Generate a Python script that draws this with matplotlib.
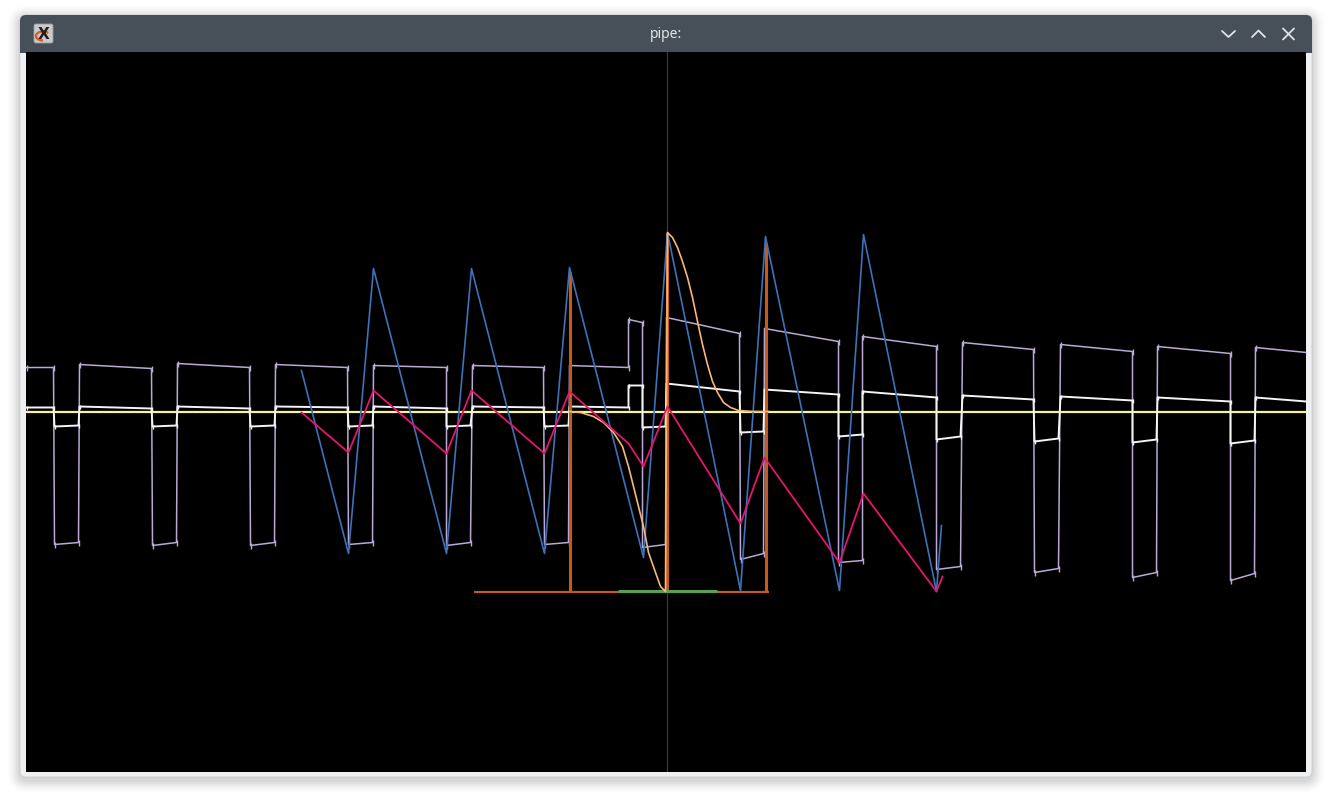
import matplotlib
matplotlib.use("Agg")
import matplotlib.pyplot as plt
from matplotlib.patches import FancyBboxPatch, Rectangle, Arc

# ---------------- data (x: sample index, y: signal value) ----------------
X0, Y0 = 26, 412  # origin of the sample/value axes inside the plot window

lav_x = [26, 53, 54, 78, 79, 151, 152, 176, 177, 249, 250, 274, 275, 347, 348, 372,
         373, 446, 446, 470, 472, 543, 544, 568, 569, 628, 628, 642, 642, 665,
         666, 739, 740, 763, 764, 838, 838, 862, 862, 936, 936, 960, 962, 1033,
         1034, 1058, 1060, 1132, 1132, 1156, 1157, 1230, 1230, 1254, 1255, 1306]
lav_y = [368, 368, 545, 543, 365, 369, 546, 543, 364, 368, 546, 543, 365, 368, 545, 543,
         366, 368, 546, 543, 366, 368, 545, 543, 366, 368, 320, 323, 548, 545,
         318, 334, 560, 554, 329, 342, 563, 561, 337, 347, 570, 567, 343, 350,
         573, 569, 345, 352, 578, 573, 347, 354, 581, 574, 348, 353]

wht_x = lav_x
wht_y = [408, 408, 427, 426, 407, 409, 427, 426, 407, 409, 427, 426, 407, 408, 427, 426,
         407, 409, 427, 426, 407, 408, 427, 426, 407, 408, 386, 386, 428, 427,
         384, 392, 433, 432, 390, 395, 437, 435, 392, 398, 440, 437, 396, 400,
         442, 439, 397, 401, 443, 440, 398, 402, 444, 441, 398, 402]

blue_x = [301, 348, 373, 446, 471, 544, 569, 643, 667, 740, 765, 839, 863, 936, 941]
blue_y = [371, 554, 269, 554, 269, 554, 268, 558, 233, 591, 237, 591, 235, 592, 526]

mag_x = [301, 348, 373, 446, 471, 544, 569, 628, 643, 667, 740, 764, 839, 863, 936, 942]
mag_y = [413, 453, 391, 454, 391, 454, 392, 444, 467, 407, 524, 458, 563, 494, 592, 577]

pulse_x = [569, 666, 765]
pulse_top = [272, 233, 243]
pulse_base = 592
pulse_span = [473, 768]

green_span = [617, 716]
green_level = 591

curve_x = [569, 580, 593, 603, 613, 622, 628, 633, 638, 643, 648, 655, 660, 665,
           667, 672, 677, 682, 687, 692, 697, 702, 707, 712, 717, 723, 730, 738, 752, 768]
curve_y = [412, 413, 417, 423, 433, 447, 467, 487, 507, 527, 553, 573, 587, 592,
           233, 238, 248, 262, 278, 298, 322, 345, 365, 382, 393, 403, 408, 411, 412, 412]

baseline_level = 412
cursor_x = 666


def sx(v):
    return [a - X0 for a in v] if isinstance(v, list) else v - X0


def sy(v):
    return [Y0 - a for a in v] if isinstance(v, list) else Y0 - v


# ---------------- figure & window chrome ----------------
W, H = 1332, 803
fig = plt.figure(figsize=(W / 100, H / 100), dpi=100)
fig.patch.set_facecolor("white")

bg = fig.add_axes([0, 0, 1, 1])
bg.set_xlim(0, W)
bg.set_ylim(H, 0)
bg.axis("off")

# shadow
for i, a in enumerate([0.035, 0.03, 0.03, 0.025, 0.02, 0.015]):
    d = 2 + i * 2
    bg.add_patch(FancyBboxPatch((20 - d, 16 - d + 3), 1292 + 2 * d, 762 + 2 * d,
                                boxstyle="round,pad=0,rounding_size=%d" % (8 + d),
                                fc="black", ec="none", alpha=a))
# window frame
bg.add_patch(FancyBboxPatch((20, 16), 1292, 762, boxstyle="round,pad=0,rounding_size=6",
                            fc="#eff0f1", ec="#c9cbcd", lw=0.6))
bg.add_patch(FancyBboxPatch((20, 16), 1292, 37, boxstyle="round,pad=0,rounding_size=6",
                            fc="#475059", ec="none"))
bg.add_patch(Rectangle((20, 40), 1292, 13.5, fc="#475059", ec="none"))
bg.text(666, 35, "pipe:", color="#dfe3e6", fontsize=10, family="Noto Sans",
        ha="center", va="center")
ic = dict(color="#dfe3e6", lw=1.3, solid_capstyle="round")
bg.plot([1222, 1228.5, 1235], [32, 38, 32], **ic)
bg.plot([1252, 1258.5, 1265], [38, 31.5, 38], **ic)
bg.plot([1283, 1294], [29.5, 40.5], **ic)
bg.plot([1283, 1294], [40.5, 29.5], **ic)
# app icon
bg.add_patch(FancyBboxPatch((34, 25), 19, 19, boxstyle="round,pad=0,rounding_size=2",
                            fc="#c8cacc", ec="#9a9ea2", lw=0.6))
bg.add_patch(Arc((43, 37), 14, 9, theta1=90, theta2=330, color="#e0561e", lw=1.6))
bg.text(43.5, 34.5, "X", color="#202020", fontsize=11, fontweight="bold",
        family="DejaVu Sans", ha="center", va="center")

# ---------------- plot area ----------------
ax = fig.add_axes([26 / W, (H - 773) / H, 1280 / W, 720 / H])
ax.set_facecolor("black")
ax.set_xlim(-0.5, 1279.5)
ax.set_ylim(Y0 - 772.5, Y0 - 52.5)
for s in ax.spines.values():
    s.set_visible(False)
ax.set_xticks([])
ax.set_yticks([])

ax.axvline(sx(cursor_x), color="#3a3a3a", lw=0.9, zorder=1)
ax.axhline(sy(baseline_level), color="#f8f1a2", lw=1.6, zorder=2)

ax.plot(sx(lav_x), sy(lav_y), color="#b9a9d4", lw=1.1, marker="|", ms=4, mew=1.0, zorder=3)
ax.plot(sx(wht_x), sy(wht_y), color="#f4f4f4", lw=1.4, marker="|", ms=3, mew=1.0, zorder=4)

ax.hlines(sy(pulse_base), sx(pulse_span[0]), sx(pulse_span[1]), color="#c75a16", lw=1.6, zorder=5)
ax.vlines(sx(pulse_x), sy(pulse_base), sy(pulse_top), color="#c75a16", lw=2.2, zorder=5)
ax.hlines(sy(green_level), sx(green_span[0]), sx(green_span[1]), color="#5c9e52", lw=2.2, zorder=5)

ax.plot(sx(blue_x), sy(blue_y), color="#3d72b8", lw=1.2, zorder=6)
ax.plot(sx(mag_x), sy(mag_y), color="#e6156e", lw=1.3, zorder=7)
ax.plot(sx(curve_x), sy(curve_y), color="#f7b878", lw=1.2, zorder=6)

fig.savefig("out.png", dpi=100, facecolor=fig.get_facecolor())
